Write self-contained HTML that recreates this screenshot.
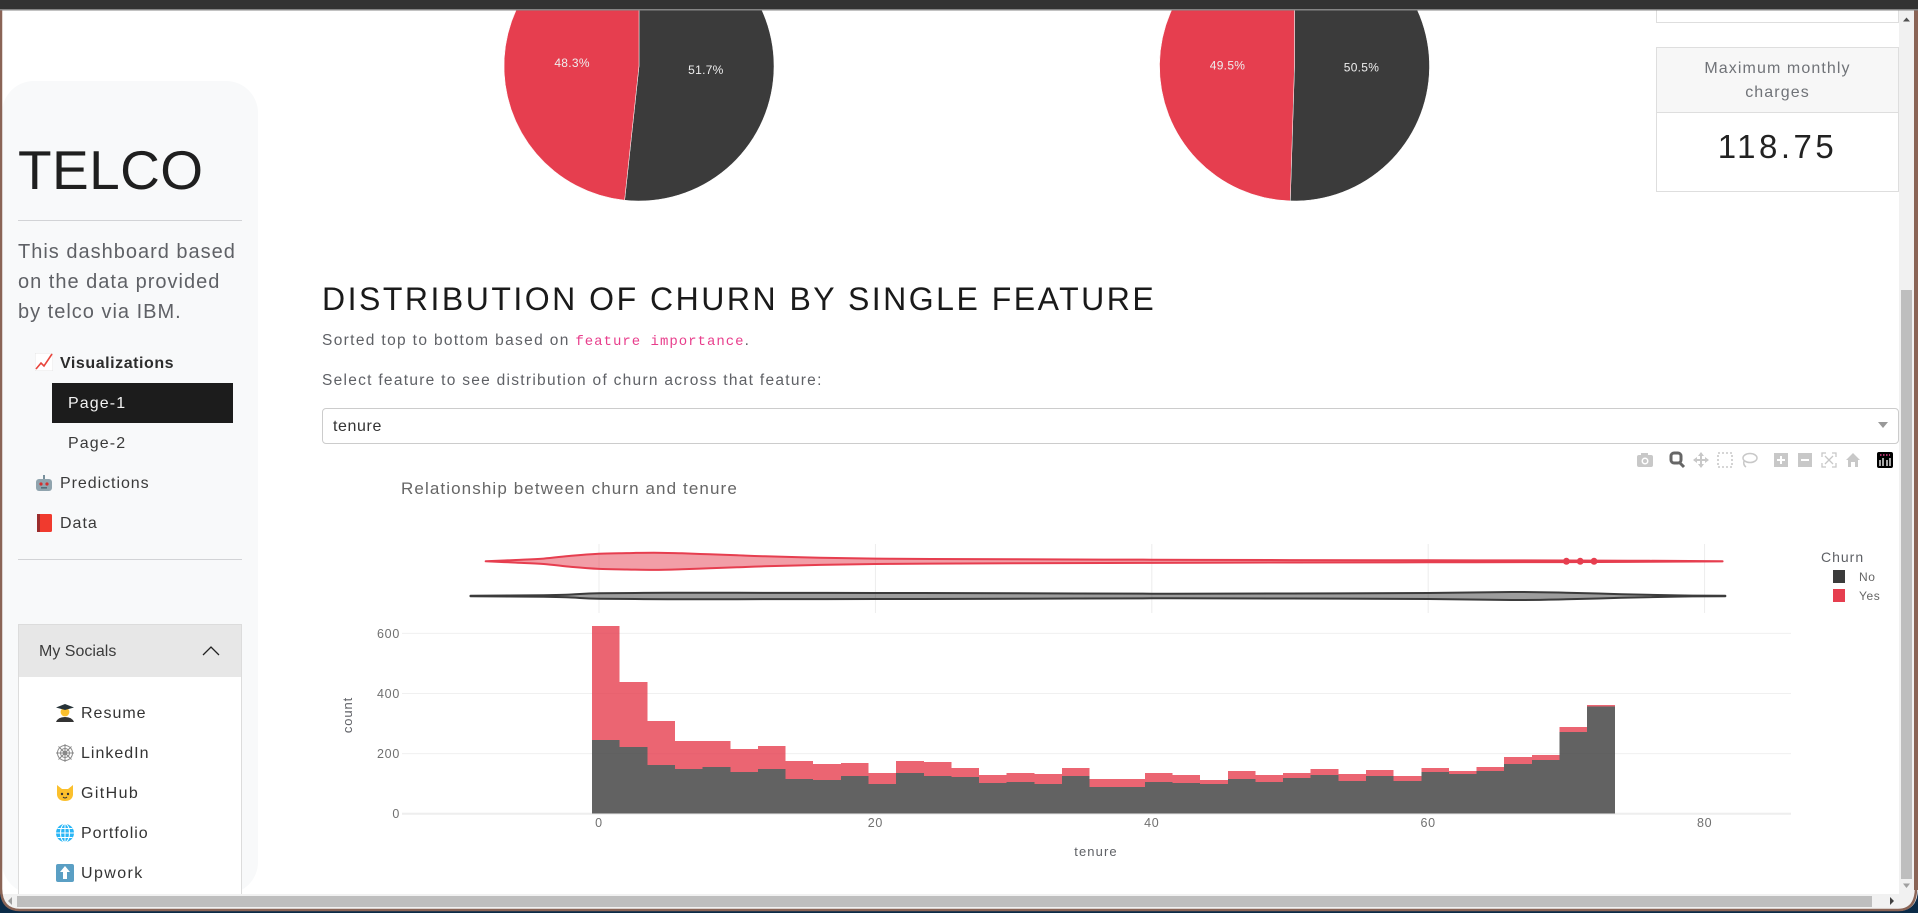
<!DOCTYPE html>
<html lang="en">
<head>
<meta charset="utf-8">
<title>Telco dashboard</title>
<style>
html,body{margin:0;padding:0;background:#fff;}
body{position:relative;width:1918px;height:913px;overflow:hidden;font-family:"Liberation Sans",sans-serif;color:#333;}
.abs{position:absolute;white-space:nowrap;}
.ic{position:absolute;}
a{color:inherit;text-decoration:none;}
</style>
</head>
<body>

<svg id="pies" class="abs" style="left:0;top:0" width="1918" height="240"></svg>

<div class="abs" style="left:2px;top:81px;width:256px;height:813px;background:#f8f9fa;border-radius:32px"></div>
<div class="abs" style="left:18px;top:132px;font-size:55px;line-height:76px;color:#1f1f1f;letter-spacing:.4px">TELCO</div>
<div class="abs" style="left:18px;top:220px;width:224px;height:1px;background:#d2d3d6"></div>
<div class="abs" style="left:18px;top:237px;font-size:20px;line-height:30px;color:#5f6166;letter-spacing:1px">This dashboard based<br>on the data provided<br>by telco via IBM.</div>

<svg class="ic" style="left:35px;top:353px" width="18" height="18" viewBox="0 0 18 18"><rect width="18" height="18" fill="#fff" stroke="#ddd" stroke-width=".7"/><path d="M1 16L6 10L9 13L17 1" fill="none" stroke="#e8453c" stroke-width="1.6"/></svg>
<a class="abs" style="left:60px;top:353px;font-size:16px;line-height:22px;font-weight:700;color:#2c2c2c;letter-spacing:.55px">Visualizations</a>
<a class="abs" style="left:52px;top:383px;width:181px;height:40px;background:#1c1c1c;color:#f2f2f2;font-size:16px;line-height:42px;text-indent:16px;letter-spacing:1.1px">Page-1</a>
<a class="abs" style="left:68px;top:433px;font-size:16px;line-height:22px;color:#3a3a3a;letter-spacing:1.1px">Page-2</a>
<svg class="ic" style="left:35px;top:474px" width="18" height="18" viewBox="0 0 18 18"><rect x="1" y="5" width="16" height="12" rx="3" fill="#90a4ae"/><rect x="8" y="1" width="2" height="4" fill="#78909c"/><circle cx="6" cy="10" r="1.6" fill="#d32f2f"/><circle cx="12" cy="10" r="1.6" fill="#d32f2f"/><rect x="6" y="13" width="6" height="1.6" fill="#546e7a"/></svg>
<a class="abs" style="left:60px;top:473px;font-size:16px;line-height:22px;color:#3a3a3a;letter-spacing:.95px">Predictions</a>
<svg class="ic" style="left:37px;top:514px" width="15" height="18" viewBox="0 0 15 18"><rect width="15" height="18" rx="1.5" fill="#f03a2e"/><rect width="3" height="18" fill="#9b2c2c"/></svg>
<a class="abs" style="left:60px;top:513px;font-size:16px;line-height:22px;color:#3a3a3a;letter-spacing:1px">Data</a>
<div class="abs" style="left:18px;top:559px;width:224px;height:1px;background:#d2d3d6"></div>

<div class="abs" style="left:18px;top:624px;width:222px;height:52px;background:#e7e7e7;border:1px solid #dcdcdc;border-bottom:2px solid #d4d4d4"></div>
<div class="abs" style="left:39px;top:641px;font-size:16px;line-height:22px;color:#3c3c3c;letter-spacing:0">My Socials</div>
<svg class="ic" style="left:202px;top:645px" width="18" height="12"><path d="M1 10L9 2L17 10" fill="none" stroke="#222" stroke-width="1.3"/></svg>
<div class="abs" style="left:18px;top:677px;width:222px;height:217px;background:#fff;border-left:1px solid #dcdcdc;border-right:1px solid #dcdcdc"></div>

<svg class="ic" style="left:56px;top:704px" width="18" height="18" viewBox="0 0 18 18"><path d="M0 18Q2 13 9 13Q16 13 18 18Z" fill="#333"/><circle cx="9" cy="8" r="4.4" fill="#fbc02d"/><path d="M9 0L18 3.5L9 6L0 3.5Z" fill="#263238"/></svg>
<a class="abs" style="left:81px;top:703px;font-size:16px;line-height:22px;color:#333;letter-spacing:1px">Resume</a>
<svg class="ic" style="left:56px;top:744px" width="18" height="18" viewBox="0 0 18 18"><g fill="none" stroke="#888" stroke-width="1"><circle cx="9" cy="9" r="7.5"/><circle cx="9" cy="9" r="4.5"/><circle cx="9" cy="9" r="1.8"/><path d="M9 0V18M0 9H18M2.5 2.5L15.5 15.5M15.5 2.5L2.5 15.5"/></g></svg>
<a class="abs" style="left:81px;top:743px;font-size:16px;line-height:22px;color:#333;letter-spacing:1px">LinkedIn</a>
<svg class="ic" style="left:56px;top:784px" width="18" height="18" viewBox="0 0 18 18"><path d="M1 1L6 5H12L17 1L17 11Q16 17 9 17Q2 17 1 11Z" fill="#fbc02d"/><circle cx="6" cy="10" r="1.2" fill="#333"/><circle cx="12" cy="10" r="1.2" fill="#333"/><path d="M7 13Q9 15 11 13" stroke="#333" fill="none"/></svg>
<a class="abs" style="left:81px;top:783px;font-size:16px;line-height:22px;color:#333;letter-spacing:1.4px">GitHub</a>
<svg class="ic" style="left:56px;top:824px" width="18" height="18" viewBox="0 0 18 18"><circle cx="9" cy="9" r="9" fill="#29b6f6"/><g fill="none" stroke="#fff" stroke-width="1"><ellipse cx="9" cy="9" rx="4.5" ry="9"/><path d="M9 0V18M0 9H18M1.5 4.5H16.5M1.5 13.5H16.5"/></g></svg>
<a class="abs" style="left:81px;top:823px;font-size:16px;line-height:22px;color:#333;letter-spacing:1px">Portfolio</a>
<svg class="ic" style="left:56px;top:864px" width="18" height="18" viewBox="0 0 18 18"><rect width="18" height="18" rx="2" fill="#5a9fc4"/><path d="M9 2L14 8H11V15H7V8H4Z" fill="#fff"/></svg>
<a class="abs" style="left:81px;top:863px;font-size:16px;line-height:22px;color:#333;letter-spacing:1.4px">Upwork</a>

<div class="abs" style="left:1656px;top:0;width:241px;height:22px;background:#fff;border:1px solid #dedede;border-top:0"></div>
<div class="abs" style="left:1656px;top:47px;width:241px;height:143px;background:#fff;border:1px solid #dedede">
  <div style="height:64px;background:#f7f7f7;border-bottom:1px solid #dedede;text-align:center;font-size:16px;line-height:24px;color:#707378;letter-spacing:1.1px"><div style="padding-top:9px">Maximum monthly<br>charges</div></div>
  <div style="text-align:center;font-size:33px;line-height:38px;color:#222;letter-spacing:3.5px;padding-top:15px">118.75</div>
</div>

<div class="abs" style="left:322px;top:279px;font-size:32px;line-height:40px;color:#1a1a1a;letter-spacing:2.5px">DISTRIBUTION OF CHURN BY SINGLE FEATURE</div>
<div class="abs" style="left:322px;top:330px;font-size:15.5px;line-height:22px;color:#5f6166;letter-spacing:1.35px">Sorted top to bottom based on <span style="font-family:'Liberation Mono',monospace;font-size:14px;color:#e83e8c;letter-spacing:1px">feature importance</span>.</div>
<div class="abs" style="left:322px;top:370px;font-size:15.5px;line-height:22px;color:#5f6166;letter-spacing:1.28px">Select feature to see distribution of churn across that feature:</div>

<div class="abs" style="left:322px;top:408px;width:1575px;height:34px;background:#fff;border:1px solid #ccc;border-radius:4px"></div>
<div class="abs" style="left:333px;top:416px;font-size:16px;line-height:22px;color:#333;letter-spacing:.6px">tenure</div>
<svg class="ic" style="left:1878px;top:421px" width="11" height="8"><path d="M0 1H10L5 7Z" fill="#999"/></svg>

<svg class="ic" style="left:0;top:0" width="1918" height="913">
  <g><rect x="1637" y="455" width="16" height="12" rx="2" fill="#c8c8c8"/><rect x="1641" y="453" width="7" height="3" fill="#c8c8c8"/><circle cx="1645" cy="461" r="3.5" fill="#fff"/><circle cx="1645" cy="461" r="2" fill="#c8c8c8"/></g>
  <g><rect x="1671" y="453" width="10" height="10" rx="3" fill="none" stroke="#666" stroke-width="3"/><path d="M1680 463L1684 467" stroke="#666" stroke-width="3"/></g>
  <g><path d="M1701 453V467M1694 460H1708" stroke="#c8c8c8" stroke-width="2"/><path d="M1701 452L1698 456H1704ZM1701 468L1698 464H1704ZM1693 460L1697 457V463ZM1709 460L1705 457V463Z" fill="#c8c8c8"/></g>
  <rect x="1718" y="453" width="14" height="14" fill="none" stroke="#c8c8c8" stroke-width="1.6" stroke-dasharray="2 2"/>
  <g><ellipse cx="1750" cy="458" rx="7" ry="4.5" fill="none" stroke="#c8c8c8" stroke-width="1.5"/><path d="M1744 461Q1743 465 1746 467" fill="none" stroke="#c8c8c8" stroke-width="1.5"/></g>
  <g><rect x="1774" y="453" width="14" height="14" fill="#c8c8c8"/><path d="M1781 456V464M1777 460H1785" stroke="#fff" stroke-width="2"/></g>
  <g><rect x="1798" y="453" width="14" height="14" fill="#c8c8c8"/><path d="M1801 460H1809" stroke="#fff" stroke-width="2"/></g>
  <g><path d="M1822 457V453H1826M1832 453H1836V457M1836 463V467H1832M1826 467H1822V463M1825 456L1833 464M1833 456L1825 464" fill="none" stroke="#c8c8c8" stroke-width="1.3"/></g>
  <path d="M1853 453L1860 460H1858V467H1855V462H1851V467H1848V460H1846Z" fill="#c8c8c8"/>
  <g><rect x="1877" y="452" width="16" height="16" rx="2" fill="#000"/><path d="M1880 460V466M1883 458V466M1887 460V466M1890 458V466" stroke="#fff" stroke-width="1.3"/><path d="M1880 455H1890" stroke="#e83e8c" stroke-width="1.5" stroke-dasharray="1.5 1.5"/></g>
</svg>

<svg id="chart" class="abs" style="left:0;top:0" width="1918" height="913">
  <text x="401" y="494" font-size="17" fill="#666" letter-spacing="1.11">Relationship between churn and tenure</text>
  <text x="1096" y="856" font-size="13" fill="#5f6166" letter-spacing="1.1" text-anchor="middle">tenure</text>
  <text transform="translate(352 715) rotate(-90)" font-size="13" fill="#5f6166" letter-spacing=".9" text-anchor="middle">count</text>
  <text x="1821" y="562" font-size="14" fill="#5f6166" letter-spacing="1">Churn</text>
  <rect x="1833" y="570" width="12" height="13" fill="#3b3b3b"/>
  <text x="1859" y="581" font-size="12" fill="#666" letter-spacing=".6">No</text>
  <rect x="1833" y="589" width="12" height="13" fill="#e63e4f"/>
  <text x="1859" y="600" font-size="12" fill="#666" letter-spacing=".6">Yes</text>
</svg>

<!-- window chrome -->
<svg class="abs" style="left:0;top:0" width="1918" height="913">
  <rect x="1899" y="10" width="15" height="884" fill="#f1f1f1"/>
  <rect x="1901" y="290" width="11" height="589" fill="#bebebe"/>
  <path d="M1903 21.5H1910L1906.5 17.5Z" fill="#505050"/>
  <path d="M1903 883.5H1910L1906.5 888Z" fill="#a0a0a0"/>
  <rect x="0" y="894" width="1914" height="15" fill="#f1f1f1"/>
  <rect x="17" y="896" width="1855" height="11" fill="#bebebe"/>
  <path d="M12 897V905L8 901Z" fill="#a0a0a0"/>
  <path d="M1890 897V905L1894 901Z" fill="#404040"/>
  <path d="M0 890Q1 911 20 911H0ZM1918 890Q1917 911 1898 911H1918Z" fill="#0b2b48"/>
  <rect x="0" y="911" width="1918" height="2" fill="#0b2b48"/>
  <path d="M1 10V888Q1 910 20 910H1898Q1916 910 1916 888V10" fill="none" stroke="#8a6456" stroke-width="2.5"/>
  <rect x="1914" y="10" width="4" height="880" fill="#8a6456"/>
  <rect x="0" y="0" width="1918" height="9" fill="#333"/>
  <rect x="0" y="9" width="1918" height="1.5" fill="#858585"/>
</svg>

<script>
// --- Chart data ---
const binStarts = [-0.5,1.5,3.5,5.5,7.5,9.5,11.5,13.5,15.5,17.5,19.5,21.5,23.5,25.5,27.5,29.5,31.5,33.5,35.5,37.5,39.5,41.5,43.5,45.5,47.5,49.5,51.5,53.5,55.5,57.5,59.5,61.5,63.5,65.5,67.5,69.5,71.5];
const churnNoCounts = [245,222,162,149,155,139,149,116,112,126,99,136,126,122,102,106,99,126,89,89,106,102,99,116,106,119,129,109,126,109,139,132,142,166,179,272,356];
const churnYesCounts = [380,217,147,93,87,77,77,60,54,43,37,40,46,30,27,30,33,26,27,27,30,27,13,26,23,17,20,23,20,17,13,10,14,23,17,17,6];
const yTickValues = [0,200,400,600];
const xTickValues = [0,20,40,60,80];
const violinYesTenure = [-8.2,-6,-4,-2,0,2,4,6,8,10,12,16,20,24,30,40,50,60,70,76,81.3];
const violinYesDensity = [0,6.5,13.5,28,38,41,43,40,35,30,25,18,13.5,11.5,10,8,6,5,4,2.5,0.5];
const violinNoTenure = [-9.3,-4,-2,0,5,10,20,30,40,50,60,66,70,74,78,81.5];
const violinNoDensity = [1.5,4,7.5,13.5,16,16,15,14,11.5,12.5,15,20,16.5,9,3,1];
const yesOutliers = [70,71,72];
const pieLeftShares = [51.7,48.3];
const pieRightShares = [50.5,49.5];
const binWidth = 2;

const COLOR_NO = '#3b3b3b';
const COLOR_YES = '#e63e4f';
const NS = 'http://www.w3.org/2000/svg';

function xScale(v){ return 599 + 13.82 * v; }
function yScale(v){ return 813.7 - 0.3005 * v; }
function densityScale(d){ return 0.2 * d; }

function mk(parent, tag, attrs, text){
  const el = document.createElementNS(NS, tag);
  for (const k in attrs) el.setAttribute(k, attrs[k]);
  if (text !== undefined) el.textContent = text;
  parent.appendChild(el);
  return el;
}

const chart = document.getElementById('chart');
const pies = document.getElementById('pies');

// Gridlines for violin panel
xTickValues.forEach(function(t){
  const el = mk(chart, 'line', {x1:xScale(t), x2:xScale(t), y1:544, y2:613, stroke:'#ececec', 'stroke-width':1});
  
  
});

// Horizontal gridlines + y ticks
yTickValues.forEach(function(t){
  const el = mk(chart, 'line', {x1:402, x2:1791, y1:yScale(t), y2:yScale(t), stroke:t === 0 ? '#eeeeee' : '#f0f0f0', 'stroke-width':t === 0 ? 2 : 1});
  
  
  const lab = mk(chart, 'text', {x:400, y:yScale(t) + 4.5, 'font-size':12.5, fill:'#707070', 'text-anchor':'end', 'letter-spacing':'.7'}, String(t));
  
  
});

// x ticks
xTickValues.forEach(function(t){
  const lab = mk(chart, 'text', {x:xScale(t), y:827, 'font-size':12.5, fill:'#707070', 'text-anchor':'middle', 'letter-spacing':'.7'}, String(t));
  
  
});

// Stacked histogram
binStarts.forEach(function(start, i){
  const x0 = xScale(start);
  const x1 = xScale(start + binWidth);
  const no = churnNoCounts[i];
  const yes = churnYesCounts[i];
  const barNo = mk(chart, 'rect', {x:x0, width:x1 - x0, y:yScale(no), height:yScale(0) - yScale(no), fill:COLOR_NO, 'fill-opacity':0.8, 'shape-rendering':'crispEdges'});
  
  
  const barYes = mk(chart, 'rect', {x:x0, width:x1 - x0, y:yScale(no + yes), height:yScale(no) - yScale(no + yes), fill:COLOR_YES, 'fill-opacity':0.8, 'shape-rendering':'crispEdges'});
  
  
});

// Violins
function smoothPath(pts){
  let d = 'M' + pts[0][0] + ' ' + pts[0][1];
  for (let i = 0; i < pts.length - 1; i++){
    const p0 = pts[Math.max(i - 1, 0)], p1 = pts[i], p2 = pts[i + 1], p3 = pts[Math.min(i + 2, pts.length - 1)];
    const c1x = p1[0] + (p2[0] - p0[0]) / 6, c1y = p1[1] + (p2[1] - p0[1]) / 6;
    const c2x = p2[0] - (p3[0] - p1[0]) / 6, c2y = p2[1] - (p3[1] - p1[1]) / 6;
    d += 'C' + c1x + ' ' + c1y + ' ' + c2x + ' ' + c2y + ' ' + p2[0] + ' ' + p2[1];
  }
  return d;
}
function violinPath(tenure, density, cy){
  const upper = tenure.map(function(t, i){ return [xScale(t), cy - densityScale(density[i])]; });
  const lower = tenure.map(function(t, i){ return [xScale(t), cy + densityScale(density[i])]; }).reverse();
  return smoothPath(upper) + 'L' + lower[0][0] + ' ' + lower[0][1] + smoothPath(lower).slice(smoothPath(lower).indexOf('C')) + 'Z';
}
const violinYes = mk(chart, 'path', {d:violinPath(violinYesTenure, violinYesDensity, 561.3), fill:COLOR_YES, 'fill-opacity':0.5, stroke:COLOR_YES, 'stroke-width':2, 'stroke-linejoin':'round'});


const violinNo = mk(chart, 'path', {d:violinPath(violinNoTenure, violinNoDensity, 596), fill:COLOR_NO, 'fill-opacity':0.5, stroke:COLOR_NO, 'stroke-width':2, 'stroke-linejoin':'round'});


yesOutliers.forEach(function(t){
  const pt = mk(chart, 'circle', {cx:xScale(t), cy:561.3, r:3.5, fill:COLOR_YES});
  
  
});

// Pies
function drawPie(cx, cy, r, shares, side){
  const colors = [COLOR_NO, COLOR_YES];
  const total = shares[0] + shares[1];
  let a = 0;
  shares.forEach(function(s, i){
    const a0 = a / total * 2 * Math.PI;
    const a1 = (a + s) / total * 2 * Math.PI;
    const large = (a1 - a0) > Math.PI ? 1 : 0;
    const d = 'M' + cx + ' ' + cy + 'L' + (cx + r * Math.sin(a0)) + ' ' + (cy - r * Math.cos(a0)) + 'A' + r + ' ' + r + ' 0 ' + large + ' 1 ' + (cx + r * Math.sin(a1)) + ' ' + (cy - r * Math.cos(a1)) + 'Z';
    const slice = mk(pies, 'path', {d:d, fill:colors[i], stroke:'#fff', 'stroke-width':0.5});
    
    
    const mid = (a0 + a1) / 2;
    const lab = mk(pies, 'text', {x:cx + 67 * Math.sin(mid), y:cy - 67 * Math.cos(mid) + 4.5, 'font-size':12, fill:'#eeeeee', 'text-anchor':'middle', 'letter-spacing':'.3'}, s.toFixed(1) + '%');
    
    
    a += s;
  });
}
drawPie(639, 66, 135, pieLeftShares, 'left');
drawPie(1294.5, 66, 135, pieRightShares, 'right');
</script>
</body>
</html>
